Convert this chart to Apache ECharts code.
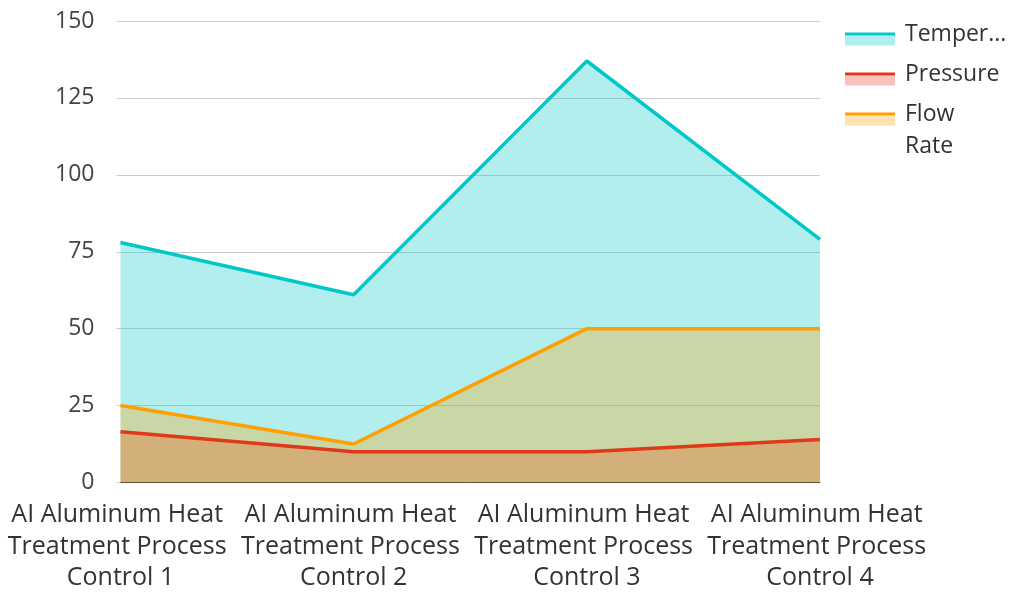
<!DOCTYPE html>
<html>
<head>
<meta charset="utf-8">
<script src="https://cdn.jsdelivr.net/npm/echarts@6/dist/echarts.min.js"></script>
<style>
  html, body { margin: 0; padding: 0; background: #fff; }
  #chart { width: 1010px; height: 594px; }
</style>
</head>
<body>
<div id="chart"></div>
<script>
// Process readings per control stage
const categories = [
  'AI Aluminum Heat Treatment Process Control 1',
  'AI Aluminum Heat Treatment Process Control 2',
  'AI Aluminum Heat Treatment Process Control 3',
  'AI Aluminum Heat Treatment Process Control 4'
];
const temperature = [78, 61, 137, 79];
const pressure = [16.5, 10, 10, 14];
const flowRate = [25, 12.5, 50, 50];
const yTicks = { min: 0, max: 150, interval: 25 };

const FONT = "'Open Sans', 'Noto Sans', sans-serif";
const colors = {
  Temperature: '#00c8c8',
  Pressure: '#e0391a',
  'Flow Rate': '#ff9f00'
};
const fillAlpha = 0.3;

function rgba(hex, a) {
  const n = parseInt(hex.slice(1), 16);
  return `rgba(${(n >> 16) & 255},${(n >> 8) & 255},${n & 255},${a})`;
}

function areaSeries(name, data) {
  return {
    name, type: 'line', data,
    showSymbol: false, symbol: 'none',
    lineStyle: { width: 3.5, color: colors[name] },
    itemStyle: { color: colors[name] },
    areaStyle: { color: colors[name], opacity: fillAlpha },
    emphasis: { disabled: true }
  };
}

const legendText = {
  fontSize: 23, fontFamily: FONT, color: '#333', lineHeight: 32,
  width: 110, overflow: 'truncate', ellipsis: '...', padding: [0, 0, 0, 5]
};
const hiddenText = Object.assign({}, legendText, { color: 'rgba(0,0,0,0)' });

// Legend built from two layers: a pale swatch for the fill and a thin bar for the line
function legendPair(names, lineTop, gap, formatter) {
  const base = {
    orient: 'vertical', left: 845, padding: 0, itemGap: gap,
    icon: 'rect', itemWidth: 50, selectedMode: false, formatter
  };
  return [
    Object.assign({}, base, {
      top: lineTop + 6.5, itemHeight: 10, textStyle: hiddenText,
      data: names.map(n => ({ name: n, itemStyle: { color: rgba(colors[n], fillAlpha) } }))
    }),
    Object.assign({}, base, {
      top: lineTop, itemHeight: 3, textStyle: legendText,
      data: names.map(n => ({ name: n, itemStyle: { color: colors[n] } }))
    })
  ];
}

const legends = [].concat(
  legendPair(['Temperature', 'Pressure'], 18, 8, n => n),
  legendPair(['Flow Rate'], 66, 8, n => '\n' + n.replace(' ', '\n'))
);

const chart = echarts.init(document.getElementById('chart'), null, { renderer: 'canvas' });
chart.setOption({
  animation: false,
  backgroundColor: '#fff',
  textStyle: { fontFamily: FONT },
  legend: legends,
  grid: { left: 118, right: 190, top: 21, bottom: 105, containLabel: false },
  xAxis: {
    type: 'category', data: categories, boundaryGap: false,
    axisLine: { show: true, lineStyle: { color: '#333', width: 1 } },
    axisTick: { show: false },
    axisLabel: {
      fontSize: 25, fontFamily: FONT, color: '#333', lineHeight: 31.5,
      margin: 17, width: 235, overflow: 'break', interval: 0
    },
    splitLine: { show: false }
  },
  yAxis: {
    type: 'value', min: yTicks.min, max: yTicks.max, interval: yTicks.interval,
    axisLine: { show: false },
    axisTick: { show: true, length: 4, lineStyle: { color: '#ccc' } },
    axisLabel: { fontSize: 23, fontFamily: FONT, color: '#444', margin: 26 },
    splitLine: { show: true, lineStyle: { color: '#ccc', width: 1 } }
  },
  series: [
    areaSeries('Temperature', temperature),
    areaSeries('Pressure', pressure),
    areaSeries('Flow Rate', flowRate)
  ]
});
</script>
</body>
</html>
